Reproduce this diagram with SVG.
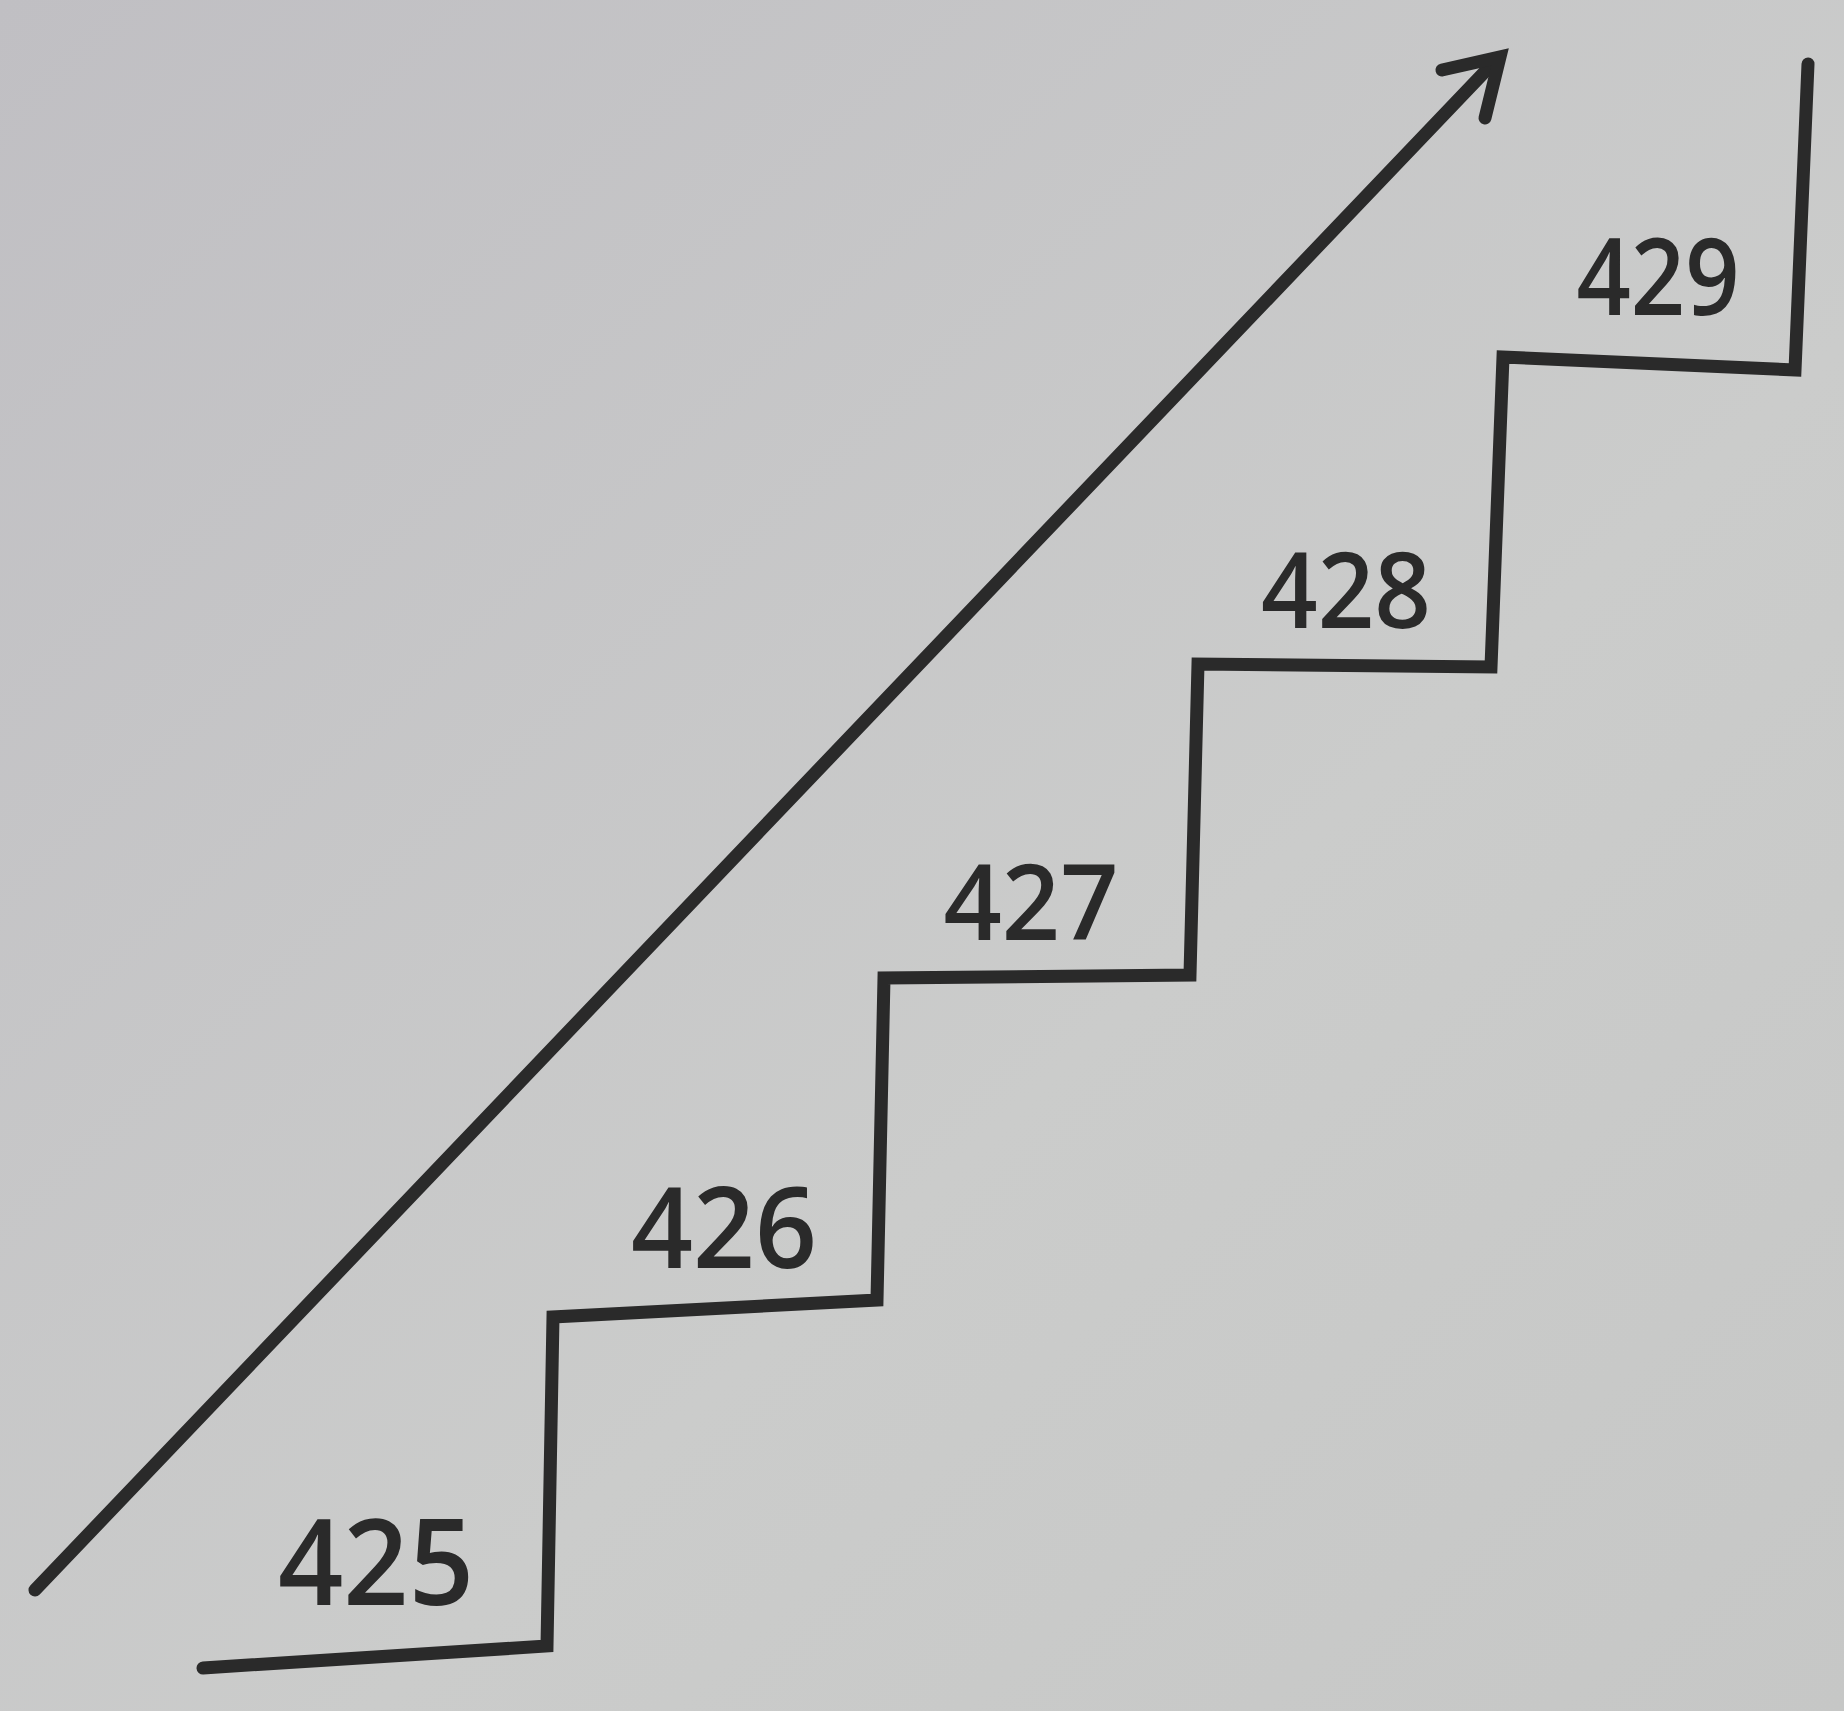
<svg xmlns="http://www.w3.org/2000/svg" width="1844" height="1711" viewBox="0 0 1844 1711">
  <defs>
    <linearGradient id="bg" x1="0" y1="0" x2="1" y2="1">
      <stop offset="0" stop-color="#c0bfc3"/>
      <stop offset="0.6" stop-color="#cbcccb"/>
      <stop offset="1" stop-color="#c6c7c6"/>
    </linearGradient>
  </defs>
  <style>
    .ln { fill: none; stroke: #2a2a2a; stroke-width: 13; stroke-linecap: round; stroke-linejoin: miter; }
    .lbl { font-family: "Open Sans", "Noto Sans", sans-serif; font-weight: 600; fill: #2a2a2a; text-anchor: middle; }
  </style>
  <rect width="1844" height="1711" fill="url(#bg)"/>
  <g id="connectors">
    <path class="ln" d="M35,1590 L1497,59"/>
    <path class="ln" d="M1442,70 L1500,57 L1485,118"/>
  </g>
  <g id="stairs">
    <path class="ln" d="M203,1668 L547,1646 L553,1317 L877,1300 L884,978 L1190,975 L1198,664 L1491,667 L1503,357 L1795,370 L1808,64"/>
  </g>
  <g id="step-425"><text class="lbl" x="376" y="1605" font-size="120" textLength="196" lengthAdjust="spacingAndGlyphs">425</text></g>
  <g id="step-426"><text class="lbl" x="724" y="1268" font-size="112" textLength="186" lengthAdjust="spacingAndGlyphs">426</text></g>
  <g id="step-427"><text class="lbl" x="1031" y="940" font-size="105" textLength="175" lengthAdjust="spacingAndGlyphs">427</text></g>
  <g id="step-428"><text class="lbl" x="1346" y="628" font-size="105" textLength="170" lengthAdjust="spacingAndGlyphs">428</text></g>
  <g id="step-429"><text class="lbl" x="1658" y="315" font-size="106" textLength="163" lengthAdjust="spacingAndGlyphs">429</text></g>
</svg>
